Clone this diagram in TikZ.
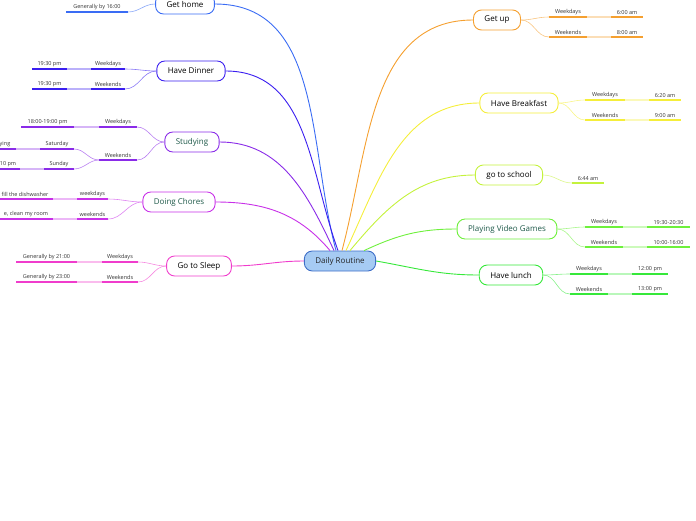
\documentclass[tikz,border=0pt]{standalone}
\usepackage{fontspec}
\setmainfont{Open Sans}
\usetikzlibrary{positioning}
\definecolor{rootfill}{HTML}{A6CBF3}
\definecolor{rootline}{HTML}{3F6FC8}
\definecolor{homec}{HTML}{3A6CF4}
\definecolor{dinnerc}{HTML}{3A1EF0}
\definecolor{studyc}{HTML}{8A2BE8}
\definecolor{chorec}{HTML}{C830E8}
\definecolor{sleepc}{HTML}{F03CCC}
\definecolor{getupc}{HTML}{F5A030}
\definecolor{breakc}{HTML}{F5EE3A}
\definecolor{schoolc}{HTML}{C4F23C}
\definecolor{videoc}{HTML}{6EF03C}
\definecolor{lunchc}{HTML}{36E83A}
\definecolor{tealtext}{HTML}{1F5A4A}
\tikzset{
  topic/.style={draw=#1, line width=0.9pt, rounded corners=8pt, fill=white,
    minimum height=20pt, inner xsep=11pt, font=\fontsize{8}{9}\selectfont},
  link/.style={draw=#1, line width=0.9pt},
  twig/.style={draw=#1!60, line width=0.6pt},
  leaf/.style={draw=#1, line width=1.3pt},
  leaftext/.style={font=\fontsize{5.5}{6}\selectfont, inner sep=1.5pt, text=black!80},
}
% name, join x, other x, y, text, colour
\newcommand{\leafline}[6]{%
  \coordinate (#1) at (#2,#4);
  \draw[leaf=#6] (#1) -- (#3,#4) node[midway, above, leaftext]{#5};
}
% light link between two leaves
\newcommand{\gap}[4]{\draw[draw=#4!35, line width=1.3pt] (#1,#3) -- (#2,#3);}
\begin{document}
\begin{tikzpicture}[x=1pt,y=-1pt]
\useasboundingbox (0,0) rectangle (696,520);

\node[topic=rootline, fill=rootfill, text=black!85] (root) at (340,261) {Daily Routine};

% left side
\node[topic=homec] (home) at (185,4) {Get home};
\node[topic=dinnerc] (dinner) at (191,71) {Have Dinner};
\node[topic=studyc, text=tealtext] (study) at (192,142) {Studying};
\node[topic=chorec, text=tealtext] (chores) at (179,202) {Doing Chores};
\node[topic=sleepc] (sleep) at (199,266) {Go to Sleep};

% right side
\node[topic=getupc] (getup) at (497,20) {Get up};
\node[topic=breakc] (breakfast) at (519,103) {Have Breakfast};
\node[topic=schoolc] (school) at (509,175) {go to school};
\node[topic=videoc, text=tealtext] (video) at (507,229) {Playing Video Games};
\node[topic=lunchc] (lunch) at (511,275) {Have lunch};

\draw[link=homec] (root.north) ++(-4,0) coordinate (r1) to[out=105, in=0] (home.east);
\draw[link=dinnerc] (root.north) ++(-2,0) coordinate (r2) to[out=110, in=0] (dinner.east);
\draw[link=studyc] (root.north) ++(-6,0) coordinate (r3) to[out=115, in=0] (study.east);
\draw[link=chorec] (root.north) ++(-10,0) coordinate (r4) to[out=130, in=0] (chores.east);
\draw[link=sleepc] (root.west) to[out=180, in=0] (sleep.east);
\draw[link=getupc] (root.north) ++(2,0) coordinate (r5) to[out=75, in=180] (getup.west);
\draw[link=breakc] (root.north) ++(6,0) coordinate (r6) to[out=65, in=180] (breakfast.west);
\draw[link=schoolc] (root.north) ++(10,0) coordinate (r7) to[out=50, in=180] (school.west);
\draw[link=videoc] (root.north east) ++(-12,0) coordinate (r8) to[out=25, in=180] (video.west);
\draw[link=lunchc] (root.east) to[out=-10, in=180] (lunch.west);

% Get home
\leafline{h1}{128}{66}{12}{Generally by 16:00}{homec}
\draw[twig=homec] (home.west) to[out=180, in=0] (h1);

% Have Dinner
\leafline{d1}{125}{91}{69}{Weekdays}{dinnerc}
\leafline{d2}{125}{91}{89}{Weekends}{dinnerc}
\gap{67}{91}{69}{dinnerc}\gap{67}{91}{89}{dinnerc}
\leafline{d3}{67}{32}{69}{19:30 pm}{dinnerc}
\leafline{d4}{67}{32}{89}{19:30 pm}{dinnerc}
\foreach \l in {d1,d2} \draw[twig=dinnerc] (dinner.west) to[out=180, in=0] (\l);

% Studying
\leafline{s1}{137}{99}{127}{Weekdays}{studyc}
\leafline{s2}{137}{99}{160}{Weekends}{studyc}
\gap{74}{99}{127}{studyc}
\leafline{s3}{74}{21}{127}{18:00-19:00 pm}{studyc}
\leafline{s4}{74}{40}{149}{Saturday}{studyc}
\leafline{s5}{74}{44}{169}{Sunday}{studyc}
\gap{16}{40}{149}{studyc}\gap{20}{44}{169}{studyc}
\leafline{s6}{16}{-6}{149}{ying}{studyc}
\leafline{s7}{20}{-4}{169}{10 pm}{studyc}
\foreach \l in {s1,s2} \draw[twig=studyc] (study.west) to[out=180, in=0] (\l);
\foreach \l in {s4,s5} \draw[twig=studyc] (99,160) to[out=180, in=0] (\l);

% Doing Chores
\leafline{c1}{108}{77}{199}{weekdays}{chorec}
\leafline{c2}{108}{77}{219}{weekends}{chorec}
\gap{53}{77}{199}{chorec}\gap{53}{77}{219}{chorec}
\leafline{c3}{53}{-3}{199}{fill the dishwasher}{chorec}
\leafline{c4}{53}{-1}{219}{e, clean my room}{chorec}
\foreach \l in {c1,c2} \draw[twig=chorec] (chores.west) to[out=180, in=0] (\l);

% Go to Sleep
\leafline{z1}{138}{102}{262}{Weekdays}{sleepc}
\leafline{z2}{138}{102}{282}{Weekends}{sleepc}
\gap{77}{102}{262}{sleepc}\gap{77}{102}{282}{sleepc}
\leafline{z3}{77}{16}{262}{Generally by 21:00}{sleepc}
\leafline{z4}{77}{16}{282}{Generally by 23:00}{sleepc}
\foreach \l in {z1,z2} \draw[twig=sleepc] (sleep.west) to[out=180, in=0] (\l);

% Get up
\leafline{g1}{549}{587}{17}{Weekdays}{getupc}
\leafline{g2}{549}{587}{37}{Weekends}{getupc}
\gap{587}{611}{17}{getupc}\gap{587}{611}{37}{getupc}
\leafline{g3}{611}{643}{17}{6:00 am}{getupc}
\leafline{g4}{611}{643}{37}{8:00 am}{getupc}
\foreach \l in {g1,g2} \draw[twig=getupc] (getup.east) to[out=0, in=180] (\l);

% Have Breakfast
\leafline{b1}{585}{625}{100}{Weekdays}{breakc}
\leafline{b2}{585}{625}{120}{Weekends}{breakc}
\gap{625}{649}{100}{breakc}\gap{625}{649}{120}{breakc}
\leafline{b3}{649}{681}{100}{6:20 am}{breakc}
\leafline{b4}{649}{681}{120}{9:00 am}{breakc}
\foreach \l in {b1,b2} \draw[twig=breakc] (breakfast.east) to[out=0, in=180] (\l);

% go to school
\leafline{k1}{572}{604}{183}{6:44 am}{schoolc}
\draw[twig=schoolc] (school.east) to[out=0, in=180] (k1);

% Playing Video Games
\leafline{v1}{585}{623}{227}{Weekdays}{videoc}
\leafline{v2}{585}{623}{247}{Weekends}{videoc}
\gap{623}{647}{227}{videoc}\gap{623}{647}{247}{videoc}
\leafline{v3}{647}{690}{227}{19:30-20:30}{videoc}
\leafline{v4}{647}{690}{247}{10:00-16:00}{videoc}
\foreach \l in {v1,v2} \draw[twig=videoc] (video.east) to[out=0, in=180] (\l);

% Have lunch
\leafline{l1}{570}{608}{274}{Weekdays}{lunchc}
\leafline{l2}{570}{608}{294}{Weekends}{lunchc}
\gap{608}{632}{274}{lunchc}\gap{608}{632}{294}{lunchc}
\leafline{l3}{632}{668}{274}{12:00 pm}{lunchc}
\leafline{l4}{632}{668}{294}{13:00 pm}{lunchc}
\foreach \l in {l1,l2} \draw[twig=lunchc] (lunch.east) to[out=0, in=180] (\l);
\end{tikzpicture}
\end{document}
